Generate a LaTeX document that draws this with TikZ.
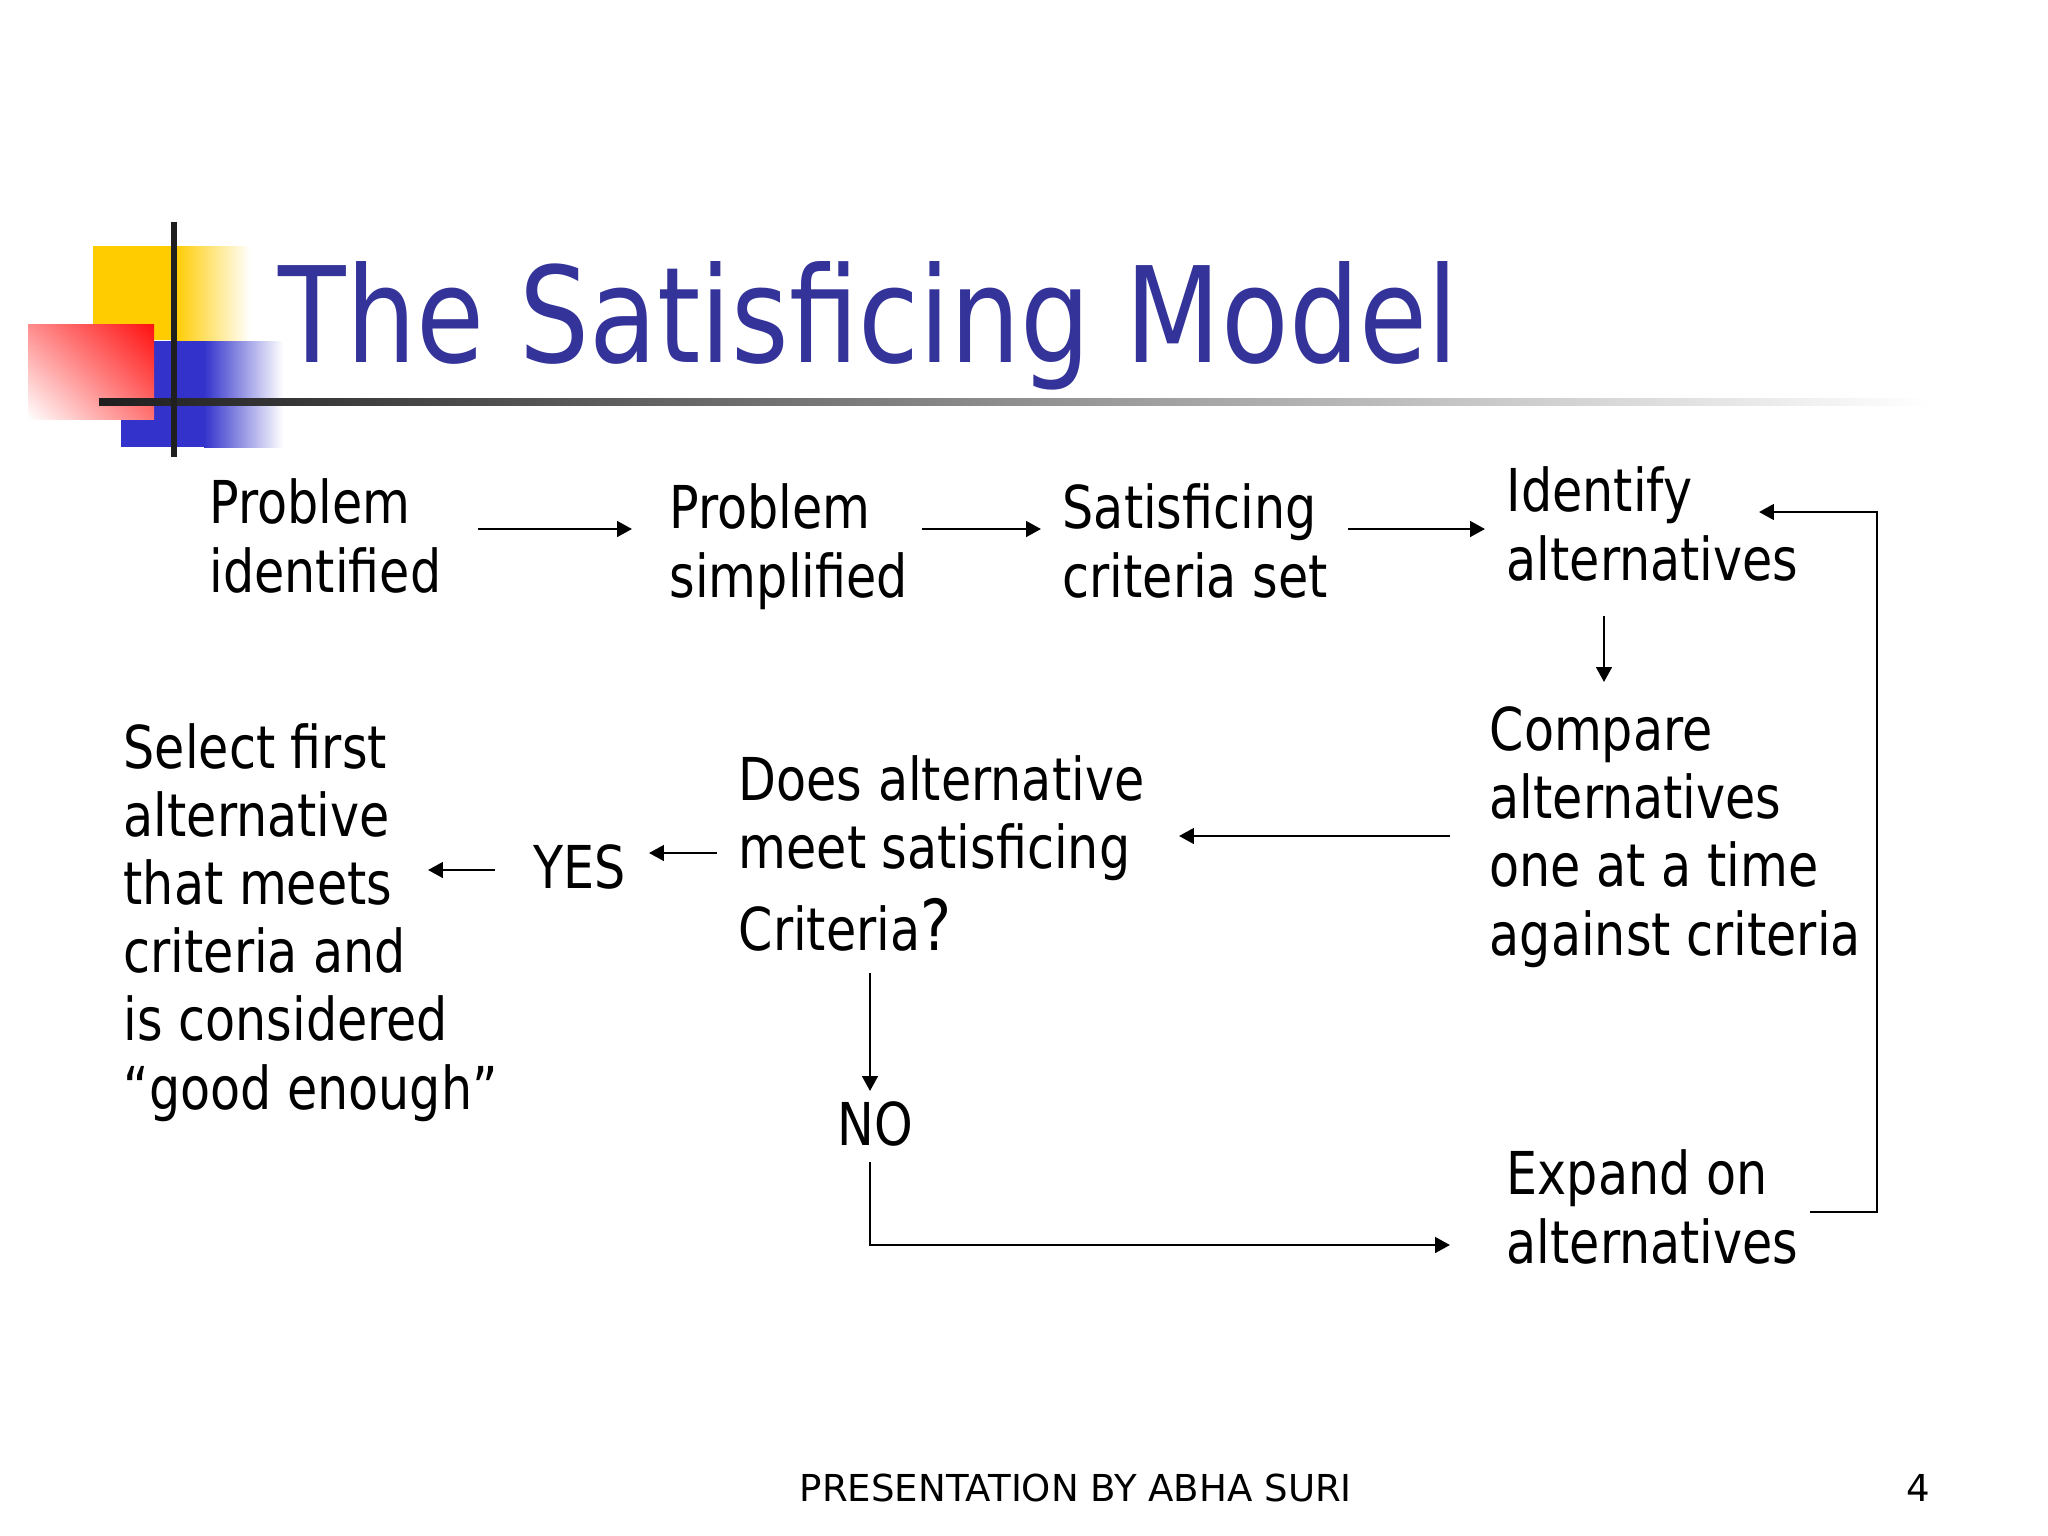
\documentclass[tikz,border=0pt]{standalone}
\usepackage{fontspec}
\setmainfont{DejaVu Sans}[FakeStretch=0.832]
\newfontfamily\footfont{DejaVu Sans}
\usetikzlibrary{arrows.meta,shadings}
\definecolor{titleblue}{HTML}{333399}
\definecolor{logoyellow}{HTML}{FFCC00}
\definecolor{logoblue}{HTML}{3333CC}
\definecolor{logored}{HTML}{FF1010}
\begin{document}
\begin{tikzpicture}[x=0.01cm,y=-0.01cm,
  lbl/.style={inner sep=0pt, anchor=base west, align=left, font=\fontsize{16.8pt}{19.35pt}\selectfont},
  foot/.style={inner sep=0pt, anchor=base west, font=\footfont\fontsize{10.55pt}{13pt}\selectfont},
  ttl/.style={inner sep=0pt, anchor=base west, text=titleblue, font=\fontsize{37.8pt}{44pt}\selectfont},
  ln/.style={line width=0.7pt},
  arr/.style={line width=0.7pt, -{Triangle[length=4.2pt,width=4.4pt]}}]
\useasboundingbox[fill=white] (0,0) rectangle (2048,1536);
% logo
\fill[logoyellow] (93,246) rectangle (176,340);
\shade[left color=logoyellow, right color=white] (175,246) rectangle (250,340);
\fill[logoblue] (121,341) rectangle (205,447);
\shade[left color=logoblue, right color=white] (204,341) rectangle (283,447);
\shade[upper right=logored, upper left=red!45, lower left=white, lower right=red!55] (28,324) rectangle (154,419);
\shade[left color=black!88, right color=white] (99,398.5) rectangle (1930,405.5);
\fill[black!88] (171,222) rectangle (177,457);
% title
\node[ttl] (title) at (278,362) {The Satisficing Model};
% text nodes (anchored at the baseline of their last line)
\node[lbl] (p1) at (209,592) {Problem\\identified};
\node[lbl] (p2) at (669,597) {Problem\\simplified};
\node[lbl] (p3) at (1062,597) {Satisficing\\criteria set};
\node[lbl] (p4) at (1506,580) {Identify\\alternatives};
\node[lbl] (p5) at (1489,955) {Compare\\alternatives\\one at a time\\against criteria};
\node[lbl] (p6) at (738,950) {Does alternative\\meet satisficing\\[3.7pt]Criteria{\fontsize{20pt}{20pt}\selectfont ?}};
\node[lbl] (yes) at (533,888) {YES};
\node[lbl] (p7) at (123,1109) {Select first\\alternative\\that meets\\criteria and\\is considered\\“good enough”};
\node[lbl] (no) at (837,1145) {NO};
\node[lbl] (p8) at (1506,1263) {Expand on\\alternatives};
\node[foot] (footer) at (799,1501) {PRESENTATION BY ABHA SURI};
\node[foot] (pnum) at (1906,1501) {4};
% connector end points
\coordinate (a1s) at (478,529); \coordinate (a1e) at (632,529);
\coordinate (a2s) at (922,529); \coordinate (a2e) at (1041,529);
\coordinate (a3s) at (1348,529); \coordinate (a3e) at (1485,529);
\coordinate (a4s) at (1604,616); \coordinate (a4e) at (1604,682);
\coordinate (a5s) at (1450,836); \coordinate (a5e) at (1179,836);
\coordinate (a6s) at (717,853); \coordinate (a6e) at (649,853);
\coordinate (a7s) at (495,870); \coordinate (a7e) at (428,870);
\coordinate (a8s) at (870,973); \coordinate (a8e) at (870,1091);
\coordinate (a9s) at (870,1162); \coordinate (a9e) at (1450,1245);
\coordinate (a10s) at (1810,1212); \coordinate (a10c) at (1877,512); \coordinate (a10e) at (1759,512);
% connectors
\draw[arr] (a1s) -- (a1e);
\draw[arr] (a2s) -- (a2e);
\draw[arr] (a3s) -- (a3e);
\draw[arr] (a4s) -- (a4e);
\draw[arr] (a5s) -- (a5e);
\draw[arr] (a6s) -- (a6e);
\draw[arr] (a7s) -- (a7e);
\draw[arr] (a8s) -- (a8e);
\draw[arr] (a9s) |- (a9e);
\draw[arr] (a10s) -| (a10c) -- (a10e);
\end{tikzpicture}
\end{document}
